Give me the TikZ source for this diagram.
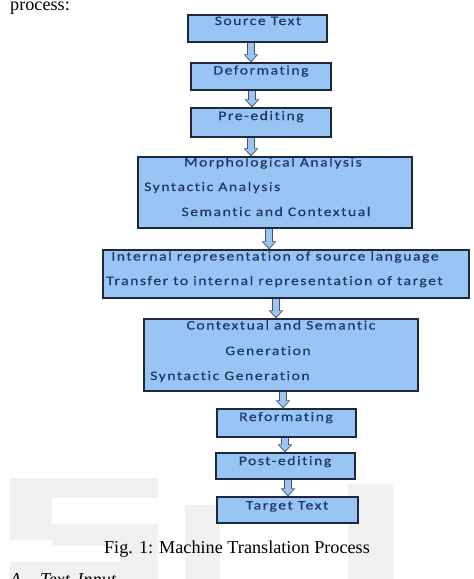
\documentclass[tikz,border=0pt]{standalone}
\usepackage{fontspec}
\setmainfont{Liberation Serif}
\newfontfamily\boxfont{Carlito}[FakeStretch=1.2, FakeBold=0.4, LetterSpace=12, Ligatures={NoCommon}]
\usetikzlibrary{arrows.meta}
\definecolor{boxfill}{RGB}{153,197,245}
\definecolor{boxedge}{RGB}{30,40,60}
\definecolor{boxtext}{RGB}{31,56,100}
\definecolor{wmark}{RGB}{241,241,241}
\tikzset{
  stage/.style={draw=boxedge, line width=1.2pt, fill=boxfill, inner sep=0pt},
  txt/.style={font=\boxfont\fontsize{13}{15}\selectfont, text=boxtext, inner sep=0pt, anchor=base},
  flow/.style={line width=8pt, draw=boxedge!80, -{Triangle[length=8pt, width=14pt]},
    postaction={draw=boxfill, line width=5.8pt, shorten >=1.4pt, shorten <=0.6pt, -{Triangle[length=5.8pt, width=10.5pt]}}},
  paper/.style={font=\fontsize{18.2}{20}\selectfont, inner sep=0pt}
}
\begin{document}
\begin{tikzpicture}[x=1pt, y=-1pt]
    \useasboundingbox (0,0) rectangle (474,579);
    % watermark
    \fill[wmark] (10,478) rectangle (158,498);
    \fill[wmark] (10,478) rectangle (52,540);
    \fill[wmark] (52,524) rectangle (158,546);
    \fill[wmark] (120,540) rectangle (158,579);
    \fill[wmark] (10,562) rectangle (158,579);
    \fill[wmark] (185,505) rectangle (220,579);
    \fill[wmark] (348,484) rectangle (393,579);
    % page text
    \node[paper, anchor=base west] (proc) at (10,10) {process:};
    \node[paper, anchor=base] (cap) at (237,553) {Fig. 1: Machine Translation Process};
    \node[paper, anchor=base west] (secA) at (10,585) {\itshape A.};
    \node[paper, anchor=base west] (secT) at (40,585) {\itshape Text\hspace{3pt} Input};
    % stages
    \node[stage, minimum width=139pt, minimum height=27pt] (src) at (257.5,28.5) {};
    \node[txt] (srcT) at (258,25) {Source Text};
    \node[stage, minimum width=140pt, minimum height=27pt] (defo) at (261,76.5) {};
    \node[txt] (defoT) at (261,74.5) {Deformating};
    \node[stage, minimum width=140pt, minimum height=29pt] (pre) at (261,122.5) {};
    \node[txt] (preT) at (261,120) {Pre-editing};
    \node[stage, minimum width=274pt, minimum height=71pt] (morph) at (275,192.5) {};
    \node[txt] (morphA) at (273,166.5) {Morphological Analysis};
    \node[txt, anchor=base west] (morphB) at (144,191) {Syntactic Analysis};
    \node[txt] (morphC) at (276,216) {Semantic and Contextual};
    \node[stage, minimum width=366pt, minimum height=48pt] (inter) at (286,274) {};
    \node[txt] (interA) at (275,260.5) {Internal representation of source language};
    \node[txt] (interB) at (274.5,285) {Transfer to internal representation of target};
    \node[stage, minimum width=274pt, minimum height=72pt] (ctx) at (281,355) {};
    \node[txt] (ctxA) at (281,329.5) {Contextual and Semantic};
    \node[txt] (ctxB) at (268,355) {Generation};
    \node[txt, anchor=base west] (ctxC) at (150,380) {Syntactic Generation};
    \node[stage, minimum width=139pt, minimum height=28pt] (refo) at (286.5,423) {};
    \node[txt] (refoT) at (286,421) {Reformating};
    \node[stage, minimum width=139pt, minimum height=26pt] (post) at (285.5,466) {};
    \node[txt] (postT) at (285,465) {Post-editing};
    \node[stage, minimum width=141pt, minimum height=26pt] (tgt) at (287.5,510) {};
    \node[txt] (tgtT) at (287,509.5) {Target Text};
    % arrows
    \draw[flow] ([xshift=-6.5pt]src.south) -- ([xshift=-6.5pt]src.south |- defo.north);
    \draw[flow] ([xshift=-9pt]defo.south) -- ([xshift=-9pt]defo.south |- pre.north);
    \draw[flow] ([xshift=-10pt]pre.south) -- ([xshift=-10pt]pre.south |- morph.north);
    \draw[flow] ([xshift=-6pt]morph.south) -- ([xshift=-6pt]morph.south |- inter.north);
    \draw[flow] ([xshift=-10pt]inter.south) -- ([xshift=-10pt]inter.south |- ctx.north);
    \draw[flow] ([xshift=2pt]ctx.south) -- ([xshift=2pt]ctx.south |- refo.north);
    \draw[flow] ([xshift=-1.5pt]refo.south) -- ([xshift=-1.5pt]refo.south |- post.north);
    \draw[flow] ([xshift=2.5pt]post.south) -- ([xshift=2.5pt]post.south |- tgt.north);
\end{tikzpicture}
\end{document}
